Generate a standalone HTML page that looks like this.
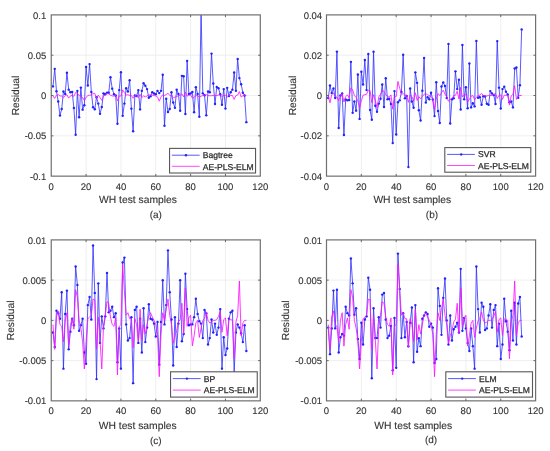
<!DOCTYPE html>
<html><head><meta charset="utf-8"><title>Residuals</title>
<style>html,body{margin:0;padding:0;background:#fff}svg{display:block}text{font-family:"Liberation Sans",Arial,sans-serif;text-rendering:geometricPrecision;stroke:#333;stroke-width:0.12px}</style>
</head><body>
<svg width="550" height="451" viewBox="0 0 550 451">
<rect width="550" height="451" fill="#fff"/>
<line x1="86.09" y1="14.9" x2="86.09" y2="176.15" stroke="#e9e9e9" stroke-width="0.75"/>
<line x1="120.93" y1="14.9" x2="120.93" y2="176.15" stroke="#e9e9e9" stroke-width="0.75"/>
<line x1="155.78" y1="14.9" x2="155.78" y2="176.15" stroke="#e9e9e9" stroke-width="0.75"/>
<line x1="190.62" y1="14.9" x2="190.62" y2="176.15" stroke="#e9e9e9" stroke-width="0.75"/>
<line x1="225.46" y1="14.9" x2="225.46" y2="176.15" stroke="#e9e9e9" stroke-width="0.75"/>
<line x1="51.25" y1="55.21" x2="260.3" y2="55.21" stroke="#e9e9e9" stroke-width="0.75"/>
<line x1="51.25" y1="95.53" x2="260.3" y2="95.53" stroke="#e9e9e9" stroke-width="0.75"/>
<line x1="51.25" y1="135.84" x2="260.3" y2="135.84" stroke="#e9e9e9" stroke-width="0.75"/>
<clipPath id="clipa"><rect x="51.25" y="14.9" width="209.05" height="161.25"/></clipPath>
<g clip-path="url(#clipa)">
<polyline points="52.99,86.41 54.73,68.84 56.48,91.25 58.22,101.49 59.96,115.60 61.70,109.07 63.44,91.57 65.19,93.91 66.93,72.79 68.67,89.64 70.41,92.30 72.16,91.90 73.90,108.02 75.64,134.71 77.38,90.85 79.12,117.29 80.87,87.62 82.61,109.63 84.35,105.20 86.09,66.90 87.83,85.45 89.58,64.08 91.32,91.98 93.06,107.22 94.80,109.23 96.54,97.14 98.29,103.59 100.03,113.83 101.77,107.05 103.51,93.35 105.25,94.23 107.00,92.62 108.74,92.70 110.48,77.22 112.22,88.67 113.97,94.23 115.71,95.53 117.45,123.74 119.19,90.12 120.93,72.14 122.68,115.84 124.42,103.59 126.16,88.27 127.90,91.49 129.64,80.21 131.39,108.67 133.13,131.24 134.87,95.53 136.61,95.93 138.35,90.12 140.10,109.39 141.84,90.85 143.58,83.19 145.32,85.69 147.06,89.08 148.81,97.70 150.55,96.33 152.29,92.30 154.03,93.51 155.78,94.23 157.52,90.85 159.26,93.11 161.00,90.85 162.74,74.72 164.49,125.76 166.23,98.75 167.97,112.05 169.71,109.07 171.45,92.30 173.20,102.54 174.94,107.86 176.68,89.64 178.42,93.91 180.16,110.68 181.91,75.85 183.65,76.18 185.39,113.99 187.13,60.86 188.87,93.91 190.62,93.51 192.36,91.90 194.10,112.21 195.84,87.14 197.59,93.91 199.33,116.81 201.07,10.06 202.81,93.35 204.55,95.20 206.30,115.36 208.04,91.49 209.78,92.30 211.52,53.60 213.26,83.43 215.01,103.99 216.75,86.90 218.49,88.27 220.23,94.23 221.97,104.72 223.72,89.08 225.46,108.59 227.20,87.87 228.94,95.93 230.68,92.30 232.43,89.64 234.17,72.55 235.91,90.85 237.65,59.00 239.40,78.11 241.14,84.24 242.88,92.70 244.62,95.53 246.36,122.13" fill="none" stroke="#2a2aff" stroke-width="0.92" stroke-linejoin="round" opacity="0.85"/>
<circle cx="52.99" cy="86.41" r="1.2" fill="#2222ff"/>
<circle cx="54.73" cy="68.84" r="1.2" fill="#2222ff"/>
<circle cx="56.48" cy="91.25" r="1.2" fill="#2222ff"/>
<circle cx="58.22" cy="101.49" r="1.2" fill="#2222ff"/>
<circle cx="59.96" cy="115.60" r="1.2" fill="#2222ff"/>
<circle cx="61.70" cy="109.07" r="1.2" fill="#2222ff"/>
<circle cx="63.44" cy="91.57" r="1.2" fill="#2222ff"/>
<circle cx="65.19" cy="93.91" r="1.2" fill="#2222ff"/>
<circle cx="66.93" cy="72.79" r="1.2" fill="#2222ff"/>
<circle cx="68.67" cy="89.64" r="1.2" fill="#2222ff"/>
<circle cx="70.41" cy="92.30" r="1.2" fill="#2222ff"/>
<circle cx="72.16" cy="91.90" r="1.2" fill="#2222ff"/>
<circle cx="73.90" cy="108.02" r="1.2" fill="#2222ff"/>
<circle cx="75.64" cy="134.71" r="1.2" fill="#2222ff"/>
<circle cx="77.38" cy="90.85" r="1.2" fill="#2222ff"/>
<circle cx="79.12" cy="117.29" r="1.2" fill="#2222ff"/>
<circle cx="80.87" cy="87.62" r="1.2" fill="#2222ff"/>
<circle cx="82.61" cy="109.63" r="1.2" fill="#2222ff"/>
<circle cx="84.35" cy="105.20" r="1.2" fill="#2222ff"/>
<circle cx="86.09" cy="66.90" r="1.2" fill="#2222ff"/>
<circle cx="87.83" cy="85.45" r="1.2" fill="#2222ff"/>
<circle cx="89.58" cy="64.08" r="1.2" fill="#2222ff"/>
<circle cx="91.32" cy="91.98" r="1.2" fill="#2222ff"/>
<circle cx="93.06" cy="107.22" r="1.2" fill="#2222ff"/>
<circle cx="94.80" cy="109.23" r="1.2" fill="#2222ff"/>
<circle cx="96.54" cy="97.14" r="1.2" fill="#2222ff"/>
<circle cx="98.29" cy="103.59" r="1.2" fill="#2222ff"/>
<circle cx="100.03" cy="113.83" r="1.2" fill="#2222ff"/>
<circle cx="101.77" cy="107.05" r="1.2" fill="#2222ff"/>
<circle cx="103.51" cy="93.35" r="1.2" fill="#2222ff"/>
<circle cx="105.25" cy="94.23" r="1.2" fill="#2222ff"/>
<circle cx="107.00" cy="92.62" r="1.2" fill="#2222ff"/>
<circle cx="108.74" cy="92.70" r="1.2" fill="#2222ff"/>
<circle cx="110.48" cy="77.22" r="1.2" fill="#2222ff"/>
<circle cx="112.22" cy="88.67" r="1.2" fill="#2222ff"/>
<circle cx="113.97" cy="94.23" r="1.2" fill="#2222ff"/>
<circle cx="115.71" cy="95.53" r="1.2" fill="#2222ff"/>
<circle cx="117.45" cy="123.74" r="1.2" fill="#2222ff"/>
<circle cx="119.19" cy="90.12" r="1.2" fill="#2222ff"/>
<circle cx="120.93" cy="72.14" r="1.2" fill="#2222ff"/>
<circle cx="122.68" cy="115.84" r="1.2" fill="#2222ff"/>
<circle cx="124.42" cy="103.59" r="1.2" fill="#2222ff"/>
<circle cx="126.16" cy="88.27" r="1.2" fill="#2222ff"/>
<circle cx="127.90" cy="91.49" r="1.2" fill="#2222ff"/>
<circle cx="129.64" cy="80.21" r="1.2" fill="#2222ff"/>
<circle cx="131.39" cy="108.67" r="1.2" fill="#2222ff"/>
<circle cx="133.13" cy="131.24" r="1.2" fill="#2222ff"/>
<circle cx="134.87" cy="95.53" r="1.2" fill="#2222ff"/>
<circle cx="136.61" cy="95.93" r="1.2" fill="#2222ff"/>
<circle cx="138.35" cy="90.12" r="1.2" fill="#2222ff"/>
<circle cx="140.10" cy="109.39" r="1.2" fill="#2222ff"/>
<circle cx="141.84" cy="90.85" r="1.2" fill="#2222ff"/>
<circle cx="143.58" cy="83.19" r="1.2" fill="#2222ff"/>
<circle cx="145.32" cy="85.69" r="1.2" fill="#2222ff"/>
<circle cx="147.06" cy="89.08" r="1.2" fill="#2222ff"/>
<circle cx="148.81" cy="97.70" r="1.2" fill="#2222ff"/>
<circle cx="150.55" cy="96.33" r="1.2" fill="#2222ff"/>
<circle cx="152.29" cy="92.30" r="1.2" fill="#2222ff"/>
<circle cx="154.03" cy="93.51" r="1.2" fill="#2222ff"/>
<circle cx="155.78" cy="94.23" r="1.2" fill="#2222ff"/>
<circle cx="157.52" cy="90.85" r="1.2" fill="#2222ff"/>
<circle cx="159.26" cy="93.11" r="1.2" fill="#2222ff"/>
<circle cx="161.00" cy="90.85" r="1.2" fill="#2222ff"/>
<circle cx="162.74" cy="74.72" r="1.2" fill="#2222ff"/>
<circle cx="164.49" cy="125.76" r="1.2" fill="#2222ff"/>
<circle cx="166.23" cy="98.75" r="1.2" fill="#2222ff"/>
<circle cx="167.97" cy="112.05" r="1.2" fill="#2222ff"/>
<circle cx="169.71" cy="109.07" r="1.2" fill="#2222ff"/>
<circle cx="171.45" cy="92.30" r="1.2" fill="#2222ff"/>
<circle cx="173.20" cy="102.54" r="1.2" fill="#2222ff"/>
<circle cx="174.94" cy="107.86" r="1.2" fill="#2222ff"/>
<circle cx="176.68" cy="89.64" r="1.2" fill="#2222ff"/>
<circle cx="178.42" cy="93.91" r="1.2" fill="#2222ff"/>
<circle cx="180.16" cy="110.68" r="1.2" fill="#2222ff"/>
<circle cx="181.91" cy="75.85" r="1.2" fill="#2222ff"/>
<circle cx="183.65" cy="76.18" r="1.2" fill="#2222ff"/>
<circle cx="185.39" cy="113.99" r="1.2" fill="#2222ff"/>
<circle cx="187.13" cy="60.86" r="1.2" fill="#2222ff"/>
<circle cx="188.87" cy="93.91" r="1.2" fill="#2222ff"/>
<circle cx="190.62" cy="93.51" r="1.2" fill="#2222ff"/>
<circle cx="192.36" cy="91.90" r="1.2" fill="#2222ff"/>
<circle cx="194.10" cy="112.21" r="1.2" fill="#2222ff"/>
<circle cx="195.84" cy="87.14" r="1.2" fill="#2222ff"/>
<circle cx="197.59" cy="93.91" r="1.2" fill="#2222ff"/>
<circle cx="199.33" cy="116.81" r="1.2" fill="#2222ff"/>
<circle cx="201.07" cy="10.06" r="1.2" fill="#2222ff"/>
<circle cx="202.81" cy="93.35" r="1.2" fill="#2222ff"/>
<circle cx="204.55" cy="95.20" r="1.2" fill="#2222ff"/>
<circle cx="206.30" cy="115.36" r="1.2" fill="#2222ff"/>
<circle cx="208.04" cy="91.49" r="1.2" fill="#2222ff"/>
<circle cx="209.78" cy="92.30" r="1.2" fill="#2222ff"/>
<circle cx="211.52" cy="53.60" r="1.2" fill="#2222ff"/>
<circle cx="213.26" cy="83.43" r="1.2" fill="#2222ff"/>
<circle cx="215.01" cy="103.99" r="1.2" fill="#2222ff"/>
<circle cx="216.75" cy="86.90" r="1.2" fill="#2222ff"/>
<circle cx="218.49" cy="88.27" r="1.2" fill="#2222ff"/>
<circle cx="220.23" cy="94.23" r="1.2" fill="#2222ff"/>
<circle cx="221.97" cy="104.72" r="1.2" fill="#2222ff"/>
<circle cx="223.72" cy="89.08" r="1.2" fill="#2222ff"/>
<circle cx="225.46" cy="108.59" r="1.2" fill="#2222ff"/>
<circle cx="227.20" cy="87.87" r="1.2" fill="#2222ff"/>
<circle cx="228.94" cy="95.93" r="1.2" fill="#2222ff"/>
<circle cx="230.68" cy="92.30" r="1.2" fill="#2222ff"/>
<circle cx="232.43" cy="89.64" r="1.2" fill="#2222ff"/>
<circle cx="234.17" cy="72.55" r="1.2" fill="#2222ff"/>
<circle cx="235.91" cy="90.85" r="1.2" fill="#2222ff"/>
<circle cx="237.65" cy="59.00" r="1.2" fill="#2222ff"/>
<circle cx="239.40" cy="78.11" r="1.2" fill="#2222ff"/>
<circle cx="241.14" cy="84.24" r="1.2" fill="#2222ff"/>
<circle cx="242.88" cy="92.70" r="1.2" fill="#2222ff"/>
<circle cx="244.62" cy="95.53" r="1.2" fill="#2222ff"/>
<circle cx="246.36" cy="122.13" r="1.2" fill="#2222ff"/>
<polyline points="52.99,95.95 54.73,98.43 56.48,95.19 58.22,94.58 59.96,95.95 61.70,96.12 63.44,97.66 65.19,95.53 66.93,94.76 68.67,98.10 70.41,95.95 72.16,95.28 73.90,96.41 75.64,92.45 77.38,93.22 79.12,95.53 80.87,96.29 82.61,97.66 84.35,100.39 86.09,97.66 87.83,95.36 89.58,95.19 91.32,95.04 93.06,93.39 94.80,93.48 96.54,98.43 98.29,95.19 100.03,97.49 101.77,100.39 103.51,96.12 105.25,95.01 107.00,93.65 108.74,93.82 110.48,95.19 112.22,95.95 113.97,96.12 115.71,95.28 117.45,100.99 119.19,96.12 120.93,95.95 122.68,89.88 124.42,92.62 126.16,95.01 127.90,94.76 129.64,95.36 131.39,95.36 133.13,98.26 134.87,95.36 136.61,95.95 138.35,97.66 140.10,94.41 141.84,97.49 143.58,95.95 145.32,96.90 147.06,95.95 148.81,95.01 150.55,94.76 152.29,95.19 154.03,95.53 155.78,95.95 157.52,96.90 159.26,101.17 161.00,96.90 162.74,94.76 164.49,95.53 166.23,94.41 167.97,93.39 169.71,95.01 171.45,95.95 173.20,97.83 174.94,97.06 176.68,96.57 178.42,95.69 180.16,95.44 181.91,93.82 183.65,96.90 185.39,92.28 187.13,96.12 188.87,95.28 190.62,95.01 192.36,98.09 194.10,97.06 195.84,95.78 197.59,95.53 199.33,97.23 201.07,96.29 202.81,95.53 204.55,95.36 206.30,94.67 208.04,95.53 209.78,95.78 211.52,95.69 213.26,95.53 215.01,95.53 216.75,95.44 218.49,95.12 220.23,94.64 221.97,96.72 223.72,95.44 225.46,95.28 227.20,97.06 228.94,95.36 230.68,95.44 232.43,95.53 234.17,99.37 235.91,95.69 237.65,95.04 239.40,91.57 241.14,97.06 242.88,95.78 244.62,95.53 246.36,95.53" fill="none" stroke="#ff14ff" stroke-width="0.92" stroke-linejoin="round" opacity="0.92"/>
</g>
<rect x="51.25" y="14.9" width="209.05" height="161.25" fill="none" stroke="#707070" stroke-width="1.2"/>
<path d="M86.09 176.15v-2.2M86.09 14.9v2.2" stroke="#5a5a5a" stroke-width="0.9"/>
<path d="M120.93 176.15v-2.2M120.93 14.9v2.2" stroke="#5a5a5a" stroke-width="0.9"/>
<path d="M155.78 176.15v-2.2M155.78 14.9v2.2" stroke="#5a5a5a" stroke-width="0.9"/>
<path d="M190.62 176.15v-2.2M190.62 14.9v2.2" stroke="#5a5a5a" stroke-width="0.9"/>
<path d="M225.46 176.15v-2.2M225.46 14.9v2.2" stroke="#5a5a5a" stroke-width="0.9"/>
<path d="M51.25 55.21h2.2M260.3 55.21h-2.2" stroke="#5a5a5a" stroke-width="0.9"/>
<path d="M51.25 95.53h2.2M260.3 95.53h-2.2" stroke="#5a5a5a" stroke-width="0.9"/>
<path d="M51.25 135.84h2.2M260.3 135.84h-2.2" stroke="#5a5a5a" stroke-width="0.9"/>
<text x="51.25" y="189.75" text-anchor="middle" font-size="9.5" fill="#333">0</text>
<text x="86.09" y="189.75" text-anchor="middle" font-size="9.5" fill="#333">20</text>
<text x="120.93" y="189.75" text-anchor="middle" font-size="9.5" fill="#333">40</text>
<text x="155.78" y="189.75" text-anchor="middle" font-size="9.5" fill="#333">60</text>
<text x="190.62" y="189.75" text-anchor="middle" font-size="9.5" fill="#333">80</text>
<text x="225.46" y="189.75" text-anchor="middle" font-size="9.5" fill="#333">100</text>
<text x="260.30" y="189.75" text-anchor="middle" font-size="9.5" fill="#333">120</text>
<text x="46.30" y="18.50" text-anchor="end" font-size="9.5" fill="#333">0.1</text>
<text x="46.30" y="58.81" text-anchor="end" font-size="9.5" fill="#333">0.05</text>
<text x="46.30" y="99.12" text-anchor="end" font-size="9.5" fill="#333">0</text>
<text x="46.30" y="139.44" text-anchor="end" font-size="9.5" fill="#333">-0.05</text>
<text x="46.30" y="179.75" text-anchor="end" font-size="9.5" fill="#333">-0.1</text>
<text x="99.05" y="203.20" font-size="10.3" fill="#333">WH test samples</text>
<text transform="translate(19.3,95.53) rotate(-90)" text-anchor="middle" font-size="10.2" fill="#333">Residual</text>
<text x="155.78" y="217.50" text-anchor="middle" font-size="10" fill="#333">(a)</text>
<rect x="169.55" y="148.40" width="86.0" height="24.6" fill="#fff" stroke="#585858" stroke-width="1.1"/>
<line x1="171.85" y1="155.20" x2="199.65" y2="155.20" stroke="#2a2aff" stroke-width="0.92" opacity="0.85"/>
<circle cx="185.95" cy="155.20" r="1.2" fill="#2222ff"/>
<line x1="171.85" y1="166.30" x2="199.65" y2="166.30" stroke="#ff14ff" stroke-width="0.92" opacity="0.85"/>
<text x="202.75" y="158.10" font-size="8.55" fill="#222" style="stroke-width:0.25px">Bagtree</text>
<text x="202.75" y="169.50" font-size="8.55" fill="#222" style="stroke-width:0.25px">AE-PLS-ELM</text>
<line x1="361.35" y1="14.9" x2="361.35" y2="176.15" stroke="#e9e9e9" stroke-width="0.75"/>
<line x1="396.20" y1="14.9" x2="396.20" y2="176.15" stroke="#e9e9e9" stroke-width="0.75"/>
<line x1="431.05" y1="14.9" x2="431.05" y2="176.15" stroke="#e9e9e9" stroke-width="0.75"/>
<line x1="465.90" y1="14.9" x2="465.90" y2="176.15" stroke="#e9e9e9" stroke-width="0.75"/>
<line x1="500.75" y1="14.9" x2="500.75" y2="176.15" stroke="#e9e9e9" stroke-width="0.75"/>
<line x1="326.5" y1="55.21" x2="535.6" y2="55.21" stroke="#e9e9e9" stroke-width="0.75"/>
<line x1="326.5" y1="95.53" x2="535.6" y2="95.53" stroke="#e9e9e9" stroke-width="0.75"/>
<line x1="326.5" y1="135.84" x2="535.6" y2="135.84" stroke="#e9e9e9" stroke-width="0.75"/>
<clipPath id="clipb"><rect x="326.5" y="14.9" width="209.10" height="161.25"/></clipPath>
<g clip-path="url(#clipb)">
<polyline points="328.24,97.94 329.99,85.45 331.73,93.11 333.47,88.47 335.21,97.94 336.95,51.58 338.70,127.98 340.44,95.53 342.18,93.51 343.93,135.03 345.67,99.35 347.41,100.36 349.15,99.96 350.89,61.86 352.64,112.86 354.38,101.57 356.12,110.64 357.87,74.56 359.61,118.91 361.35,71.74 363.09,84.44 364.84,60.05 366.58,90.08 368.32,54.00 370.06,110.04 371.81,119.71 373.55,51.79 375.29,105.80 377.03,111.85 378.77,103.59 380.52,98.75 382.26,84.44 384.00,107.01 385.75,78.19 387.49,99.35 389.23,98.75 390.97,103.99 392.72,143.09 394.46,91.09 396.20,134.43 397.94,102.18 399.69,100.36 401.43,91.90 403.17,54.81 404.91,98.35 406.65,95.93 408.40,167.08 410.14,88.47 411.88,101.57 413.62,107.82 415.37,72.35 417.11,82.83 418.85,110.24 420.60,120.52 422.34,90.69 424.08,58.03 425.82,102.58 427.56,97.14 429.31,99.35 431.05,92.70 432.79,99.56 434.54,116.08 436.28,82.22 438.02,111.05 439.76,122.94 441.50,86.45 443.25,82.42 444.99,86.05 446.73,97.94 448.48,43.92 450.22,123.54 451.96,99.35 453.70,98.35 455.45,71.34 457.19,89.08 458.93,79.80 460.67,109.43 462.42,44.93 464.16,99.35 465.90,87.26 467.64,108.22 469.38,63.48 471.13,107.42 472.87,103.18 474.61,106.41 476.36,40.90 478.10,97.74 479.84,97.14 481.58,104.80 483.33,96.13 485.07,96.53 486.81,103.79 488.55,104.80 490.30,91.09 492.04,93.51 493.78,95.12 495.52,103.99 497.26,41.10 499.01,87.66 500.75,108.43 502.49,89.08 504.24,86.66 505.98,91.70 507.72,94.52 509.46,102.18 511.21,101.57 512.95,107.42 514.69,68.52 516.43,67.51 518.18,97.74 519.92,85.25 521.66,29.41" fill="none" stroke="#2a2aff" stroke-width="0.92" stroke-linejoin="round" opacity="0.85"/>
<circle cx="328.24" cy="97.94" r="1.2" fill="#2222ff"/>
<circle cx="329.99" cy="85.45" r="1.2" fill="#2222ff"/>
<circle cx="331.73" cy="93.11" r="1.2" fill="#2222ff"/>
<circle cx="333.47" cy="88.47" r="1.2" fill="#2222ff"/>
<circle cx="335.21" cy="97.94" r="1.2" fill="#2222ff"/>
<circle cx="336.95" cy="51.58" r="1.2" fill="#2222ff"/>
<circle cx="338.70" cy="127.98" r="1.2" fill="#2222ff"/>
<circle cx="340.44" cy="95.53" r="1.2" fill="#2222ff"/>
<circle cx="342.18" cy="93.51" r="1.2" fill="#2222ff"/>
<circle cx="343.93" cy="135.03" r="1.2" fill="#2222ff"/>
<circle cx="345.67" cy="99.35" r="1.2" fill="#2222ff"/>
<circle cx="347.41" cy="100.36" r="1.2" fill="#2222ff"/>
<circle cx="349.15" cy="99.96" r="1.2" fill="#2222ff"/>
<circle cx="350.89" cy="61.86" r="1.2" fill="#2222ff"/>
<circle cx="352.64" cy="112.86" r="1.2" fill="#2222ff"/>
<circle cx="354.38" cy="101.57" r="1.2" fill="#2222ff"/>
<circle cx="356.12" cy="110.64" r="1.2" fill="#2222ff"/>
<circle cx="357.87" cy="74.56" r="1.2" fill="#2222ff"/>
<circle cx="359.61" cy="118.91" r="1.2" fill="#2222ff"/>
<circle cx="361.35" cy="71.74" r="1.2" fill="#2222ff"/>
<circle cx="363.09" cy="84.44" r="1.2" fill="#2222ff"/>
<circle cx="364.84" cy="60.05" r="1.2" fill="#2222ff"/>
<circle cx="366.58" cy="90.08" r="1.2" fill="#2222ff"/>
<circle cx="368.32" cy="54.00" r="1.2" fill="#2222ff"/>
<circle cx="370.06" cy="110.04" r="1.2" fill="#2222ff"/>
<circle cx="371.81" cy="119.71" r="1.2" fill="#2222ff"/>
<circle cx="373.55" cy="51.79" r="1.2" fill="#2222ff"/>
<circle cx="375.29" cy="105.80" r="1.2" fill="#2222ff"/>
<circle cx="377.03" cy="111.85" r="1.2" fill="#2222ff"/>
<circle cx="378.77" cy="103.59" r="1.2" fill="#2222ff"/>
<circle cx="380.52" cy="98.75" r="1.2" fill="#2222ff"/>
<circle cx="382.26" cy="84.44" r="1.2" fill="#2222ff"/>
<circle cx="384.00" cy="107.01" r="1.2" fill="#2222ff"/>
<circle cx="385.75" cy="78.19" r="1.2" fill="#2222ff"/>
<circle cx="387.49" cy="99.35" r="1.2" fill="#2222ff"/>
<circle cx="389.23" cy="98.75" r="1.2" fill="#2222ff"/>
<circle cx="390.97" cy="103.99" r="1.2" fill="#2222ff"/>
<circle cx="392.72" cy="143.09" r="1.2" fill="#2222ff"/>
<circle cx="394.46" cy="91.09" r="1.2" fill="#2222ff"/>
<circle cx="396.20" cy="134.43" r="1.2" fill="#2222ff"/>
<circle cx="397.94" cy="102.18" r="1.2" fill="#2222ff"/>
<circle cx="399.69" cy="100.36" r="1.2" fill="#2222ff"/>
<circle cx="401.43" cy="91.90" r="1.2" fill="#2222ff"/>
<circle cx="403.17" cy="54.81" r="1.2" fill="#2222ff"/>
<circle cx="404.91" cy="98.35" r="1.2" fill="#2222ff"/>
<circle cx="406.65" cy="95.93" r="1.2" fill="#2222ff"/>
<circle cx="408.40" cy="167.08" r="1.2" fill="#2222ff"/>
<circle cx="410.14" cy="88.47" r="1.2" fill="#2222ff"/>
<circle cx="411.88" cy="101.57" r="1.2" fill="#2222ff"/>
<circle cx="413.62" cy="107.82" r="1.2" fill="#2222ff"/>
<circle cx="415.37" cy="72.35" r="1.2" fill="#2222ff"/>
<circle cx="417.11" cy="82.83" r="1.2" fill="#2222ff"/>
<circle cx="418.85" cy="110.24" r="1.2" fill="#2222ff"/>
<circle cx="420.60" cy="120.52" r="1.2" fill="#2222ff"/>
<circle cx="422.34" cy="90.69" r="1.2" fill="#2222ff"/>
<circle cx="424.08" cy="58.03" r="1.2" fill="#2222ff"/>
<circle cx="425.82" cy="102.58" r="1.2" fill="#2222ff"/>
<circle cx="427.56" cy="97.14" r="1.2" fill="#2222ff"/>
<circle cx="429.31" cy="99.35" r="1.2" fill="#2222ff"/>
<circle cx="431.05" cy="92.70" r="1.2" fill="#2222ff"/>
<circle cx="432.79" cy="99.56" r="1.2" fill="#2222ff"/>
<circle cx="434.54" cy="116.08" r="1.2" fill="#2222ff"/>
<circle cx="436.28" cy="82.22" r="1.2" fill="#2222ff"/>
<circle cx="438.02" cy="111.05" r="1.2" fill="#2222ff"/>
<circle cx="439.76" cy="122.94" r="1.2" fill="#2222ff"/>
<circle cx="441.50" cy="86.45" r="1.2" fill="#2222ff"/>
<circle cx="443.25" cy="82.42" r="1.2" fill="#2222ff"/>
<circle cx="444.99" cy="86.05" r="1.2" fill="#2222ff"/>
<circle cx="446.73" cy="97.94" r="1.2" fill="#2222ff"/>
<circle cx="448.48" cy="43.92" r="1.2" fill="#2222ff"/>
<circle cx="450.22" cy="123.54" r="1.2" fill="#2222ff"/>
<circle cx="451.96" cy="99.35" r="1.2" fill="#2222ff"/>
<circle cx="453.70" cy="98.35" r="1.2" fill="#2222ff"/>
<circle cx="455.45" cy="71.34" r="1.2" fill="#2222ff"/>
<circle cx="457.19" cy="89.08" r="1.2" fill="#2222ff"/>
<circle cx="458.93" cy="79.80" r="1.2" fill="#2222ff"/>
<circle cx="460.67" cy="109.43" r="1.2" fill="#2222ff"/>
<circle cx="462.42" cy="44.93" r="1.2" fill="#2222ff"/>
<circle cx="464.16" cy="99.35" r="1.2" fill="#2222ff"/>
<circle cx="465.90" cy="87.26" r="1.2" fill="#2222ff"/>
<circle cx="467.64" cy="108.22" r="1.2" fill="#2222ff"/>
<circle cx="469.38" cy="63.48" r="1.2" fill="#2222ff"/>
<circle cx="471.13" cy="107.42" r="1.2" fill="#2222ff"/>
<circle cx="472.87" cy="103.18" r="1.2" fill="#2222ff"/>
<circle cx="474.61" cy="106.41" r="1.2" fill="#2222ff"/>
<circle cx="476.36" cy="40.90" r="1.2" fill="#2222ff"/>
<circle cx="478.10" cy="97.74" r="1.2" fill="#2222ff"/>
<circle cx="479.84" cy="97.14" r="1.2" fill="#2222ff"/>
<circle cx="481.58" cy="104.80" r="1.2" fill="#2222ff"/>
<circle cx="483.33" cy="96.13" r="1.2" fill="#2222ff"/>
<circle cx="485.07" cy="96.53" r="1.2" fill="#2222ff"/>
<circle cx="486.81" cy="103.79" r="1.2" fill="#2222ff"/>
<circle cx="488.55" cy="104.80" r="1.2" fill="#2222ff"/>
<circle cx="490.30" cy="91.09" r="1.2" fill="#2222ff"/>
<circle cx="492.04" cy="93.51" r="1.2" fill="#2222ff"/>
<circle cx="493.78" cy="95.12" r="1.2" fill="#2222ff"/>
<circle cx="495.52" cy="103.99" r="1.2" fill="#2222ff"/>
<circle cx="497.26" cy="41.10" r="1.2" fill="#2222ff"/>
<circle cx="499.01" cy="87.66" r="1.2" fill="#2222ff"/>
<circle cx="500.75" cy="108.43" r="1.2" fill="#2222ff"/>
<circle cx="502.49" cy="89.08" r="1.2" fill="#2222ff"/>
<circle cx="504.24" cy="86.66" r="1.2" fill="#2222ff"/>
<circle cx="505.98" cy="91.70" r="1.2" fill="#2222ff"/>
<circle cx="507.72" cy="94.52" r="1.2" fill="#2222ff"/>
<circle cx="509.46" cy="102.18" r="1.2" fill="#2222ff"/>
<circle cx="511.21" cy="101.57" r="1.2" fill="#2222ff"/>
<circle cx="512.95" cy="107.42" r="1.2" fill="#2222ff"/>
<circle cx="514.69" cy="68.52" r="1.2" fill="#2222ff"/>
<circle cx="516.43" cy="67.51" r="1.2" fill="#2222ff"/>
<circle cx="518.18" cy="97.74" r="1.2" fill="#2222ff"/>
<circle cx="519.92" cy="85.25" r="1.2" fill="#2222ff"/>
<circle cx="521.66" cy="29.41" r="1.2" fill="#2222ff"/>
<polyline points="328.24,96.59 329.99,102.78 331.73,94.68 333.47,93.17 335.21,96.59 336.95,97.02 338.70,100.87 340.44,95.53 342.18,93.61 343.93,101.98 345.67,96.59 347.41,94.92 349.15,97.74 350.89,87.83 352.64,89.76 354.38,95.53 356.12,97.44 357.87,100.87 359.61,107.70 361.35,100.87 363.09,95.10 364.84,94.68 366.58,94.32 368.32,90.18 370.06,90.41 371.81,102.78 373.55,94.68 375.29,100.44 377.03,107.70 378.77,97.02 380.52,94.23 382.26,90.83 384.00,91.25 385.75,94.68 387.49,96.59 389.23,97.02 390.97,94.92 392.72,109.19 394.46,97.02 396.20,96.59 397.94,81.42 399.69,88.27 401.43,94.23 403.17,93.61 404.91,95.10 406.65,95.12 408.40,102.36 410.14,95.10 411.88,96.59 413.62,100.87 415.37,92.74 417.11,100.44 418.85,96.59 420.60,98.95 422.34,96.59 424.08,94.23 425.82,93.61 427.56,94.68 429.31,95.53 431.05,96.59 432.79,98.95 434.54,109.63 436.28,98.95 438.02,93.61 439.76,95.53 441.50,92.74 443.25,90.18 444.99,94.23 446.73,96.59 448.48,101.29 450.22,99.37 451.96,98.15 453.70,95.93 455.45,95.32 457.19,91.25 458.93,98.95 460.67,87.40 462.42,97.02 464.16,94.92 465.90,94.23 467.64,101.93 469.38,99.37 471.13,96.17 472.87,95.53 474.61,99.80 476.36,97.44 478.10,95.53 479.84,95.10 481.58,93.39 483.33,95.53 485.07,96.17 486.81,95.95 488.55,95.53 490.30,95.53 492.04,95.32 493.78,94.52 495.52,93.31 497.26,98.51 499.01,95.32 500.75,94.92 502.49,99.37 504.24,95.12 505.98,95.30 507.72,95.53 509.46,105.14 511.21,95.93 512.95,94.32 514.69,85.65 516.43,99.37 518.18,96.17 519.92,95.53 521.66,95.53" fill="none" stroke="#ff14ff" stroke-width="0.92" stroke-linejoin="round" opacity="0.92"/>
</g>
<rect x="326.5" y="14.9" width="209.10" height="161.25" fill="none" stroke="#707070" stroke-width="1.2"/>
<path d="M361.35 176.15v-2.2M361.35 14.9v2.2" stroke="#5a5a5a" stroke-width="0.9"/>
<path d="M396.20 176.15v-2.2M396.20 14.9v2.2" stroke="#5a5a5a" stroke-width="0.9"/>
<path d="M431.05 176.15v-2.2M431.05 14.9v2.2" stroke="#5a5a5a" stroke-width="0.9"/>
<path d="M465.90 176.15v-2.2M465.90 14.9v2.2" stroke="#5a5a5a" stroke-width="0.9"/>
<path d="M500.75 176.15v-2.2M500.75 14.9v2.2" stroke="#5a5a5a" stroke-width="0.9"/>
<path d="M326.5 55.21h2.2M535.6 55.21h-2.2" stroke="#5a5a5a" stroke-width="0.9"/>
<path d="M326.5 95.53h2.2M535.6 95.53h-2.2" stroke="#5a5a5a" stroke-width="0.9"/>
<path d="M326.5 135.84h2.2M535.6 135.84h-2.2" stroke="#5a5a5a" stroke-width="0.9"/>
<text x="326.50" y="189.75" text-anchor="middle" font-size="9.5" fill="#333">0</text>
<text x="361.35" y="189.75" text-anchor="middle" font-size="9.5" fill="#333">20</text>
<text x="396.20" y="189.75" text-anchor="middle" font-size="9.5" fill="#333">40</text>
<text x="431.05" y="189.75" text-anchor="middle" font-size="9.5" fill="#333">60</text>
<text x="465.90" y="189.75" text-anchor="middle" font-size="9.5" fill="#333">80</text>
<text x="500.75" y="189.75" text-anchor="middle" font-size="9.5" fill="#333">100</text>
<text x="535.60" y="189.75" text-anchor="middle" font-size="9.5" fill="#333">120</text>
<text x="322.15" y="18.50" text-anchor="end" font-size="9.5" fill="#333">0.04</text>
<text x="322.15" y="58.81" text-anchor="end" font-size="9.5" fill="#333">0.02</text>
<text x="322.15" y="99.12" text-anchor="end" font-size="9.5" fill="#333">0</text>
<text x="322.15" y="139.44" text-anchor="end" font-size="9.5" fill="#333">-0.02</text>
<text x="322.15" y="179.75" text-anchor="end" font-size="9.5" fill="#333">-0.04</text>
<text x="373.40" y="203.20" font-size="10.3" fill="#333">WH test samples</text>
<text transform="translate(295.8,95.53) rotate(-90)" text-anchor="middle" font-size="10.2" fill="#333">Residual</text>
<text x="431.95" y="217.90" text-anchor="middle" font-size="10" fill="#333">(b)</text>
<rect x="444.80" y="147.60" width="86.0" height="24.6" fill="#fff" stroke="#585858" stroke-width="1.1"/>
<line x1="447.10" y1="154.40" x2="474.90" y2="154.40" stroke="#2a2aff" stroke-width="0.92" opacity="0.85"/>
<circle cx="461.20" cy="154.40" r="1.2" fill="#2222ff"/>
<line x1="447.10" y1="165.50" x2="474.90" y2="165.50" stroke="#ff14ff" stroke-width="0.92" opacity="0.85"/>
<text x="478.00" y="157.30" font-size="8.55" fill="#222" style="stroke-width:0.25px">SVR</text>
<text x="478.00" y="168.70" font-size="8.55" fill="#222" style="stroke-width:0.25px">AE-PLS-ELM</text>
<line x1="86.09" y1="239.9" x2="86.09" y2="400.85" stroke="#e9e9e9" stroke-width="0.75"/>
<line x1="120.93" y1="239.9" x2="120.93" y2="400.85" stroke="#e9e9e9" stroke-width="0.75"/>
<line x1="155.78" y1="239.9" x2="155.78" y2="400.85" stroke="#e9e9e9" stroke-width="0.75"/>
<line x1="190.62" y1="239.9" x2="190.62" y2="400.85" stroke="#e9e9e9" stroke-width="0.75"/>
<line x1="225.46" y1="239.9" x2="225.46" y2="400.85" stroke="#e9e9e9" stroke-width="0.75"/>
<line x1="51.25" y1="280.14" x2="260.3" y2="280.14" stroke="#e9e9e9" stroke-width="0.75"/>
<line x1="51.25" y1="320.38" x2="260.3" y2="320.38" stroke="#e9e9e9" stroke-width="0.75"/>
<line x1="51.25" y1="360.61" x2="260.3" y2="360.61" stroke="#e9e9e9" stroke-width="0.75"/>
<clipPath id="clipc"><rect x="51.25" y="239.9" width="209.05" height="160.95"/></clipPath>
<g clip-path="url(#clipc)">
<polyline points="52.99,332.45 54.73,346.93 56.48,310.72 58.22,313.13 59.96,318.77 61.70,292.21 63.44,368.66 65.19,313.94 66.93,290.60 68.67,349.35 70.41,331.64 72.16,318.77 73.90,325.20 75.64,266.46 77.38,284.97 79.12,330.84 80.87,325.20 82.61,318.77 84.35,352.56 86.09,363.83 87.83,305.08 89.58,297.04 91.32,319.57 93.06,245.53 94.80,293.01 96.54,379.12 98.29,283.36 100.03,342.91 101.77,316.35 103.51,328.42 105.25,316.35 107.00,272.89 108.74,312.33 110.48,310.72 112.22,306.69 113.97,317.16 115.71,313.13 117.45,362.22 119.19,328.42 120.93,368.66 122.68,262.43 124.42,257.60 126.16,324.40 127.90,340.49 129.64,338.08 131.39,317.16 133.13,383.15 134.87,309.91 136.61,306.69 138.35,342.91 140.10,318.77 141.84,352.56 143.58,308.30 145.32,342.10 147.06,327.62 148.81,304.28 150.55,318.77 152.29,319.57 154.03,323.59 155.78,336.47 157.52,321.98 159.26,364.64 161.00,321.98 162.74,280.14 164.49,324.40 166.23,305.08 167.97,250.36 169.71,292.21 171.45,319.57 173.20,365.44 174.94,317.16 176.68,346.93 178.42,323.59 180.16,280.14 181.91,341.30 183.65,334.06 185.39,273.70 187.13,309.11 188.87,325.20 190.62,324.40 192.36,324.40 194.10,317.16 195.84,298.65 197.59,313.94 199.33,321.18 201.07,323.59 202.81,338.08 204.55,309.91 206.30,313.13 208.04,344.52 209.78,338.08 211.52,319.57 213.26,332.45 215.01,323.59 216.75,334.86 218.49,327.62 220.23,309.11 221.97,368.66 223.72,337.27 225.46,354.98 227.20,348.54 228.94,318.77 230.68,312.33 232.43,310.72 234.17,372.68 235.91,332.45 237.65,324.40 239.40,327.62 241.14,333.25 242.88,342.10 244.62,325.20 246.36,350.96" fill="none" stroke="#2a2aff" stroke-width="0.92" stroke-linejoin="round" opacity="0.85"/>
<circle cx="52.99" cy="332.45" r="1.2" fill="#2222ff"/>
<circle cx="54.73" cy="346.93" r="1.2" fill="#2222ff"/>
<circle cx="56.48" cy="310.72" r="1.2" fill="#2222ff"/>
<circle cx="58.22" cy="313.13" r="1.2" fill="#2222ff"/>
<circle cx="59.96" cy="318.77" r="1.2" fill="#2222ff"/>
<circle cx="61.70" cy="292.21" r="1.2" fill="#2222ff"/>
<circle cx="63.44" cy="368.66" r="1.2" fill="#2222ff"/>
<circle cx="65.19" cy="313.94" r="1.2" fill="#2222ff"/>
<circle cx="66.93" cy="290.60" r="1.2" fill="#2222ff"/>
<circle cx="68.67" cy="349.35" r="1.2" fill="#2222ff"/>
<circle cx="70.41" cy="331.64" r="1.2" fill="#2222ff"/>
<circle cx="72.16" cy="318.77" r="1.2" fill="#2222ff"/>
<circle cx="73.90" cy="325.20" r="1.2" fill="#2222ff"/>
<circle cx="75.64" cy="266.46" r="1.2" fill="#2222ff"/>
<circle cx="77.38" cy="284.97" r="1.2" fill="#2222ff"/>
<circle cx="79.12" cy="330.84" r="1.2" fill="#2222ff"/>
<circle cx="80.87" cy="325.20" r="1.2" fill="#2222ff"/>
<circle cx="82.61" cy="318.77" r="1.2" fill="#2222ff"/>
<circle cx="84.35" cy="352.56" r="1.2" fill="#2222ff"/>
<circle cx="86.09" cy="363.83" r="1.2" fill="#2222ff"/>
<circle cx="87.83" cy="305.08" r="1.2" fill="#2222ff"/>
<circle cx="89.58" cy="297.04" r="1.2" fill="#2222ff"/>
<circle cx="91.32" cy="319.57" r="1.2" fill="#2222ff"/>
<circle cx="93.06" cy="245.53" r="1.2" fill="#2222ff"/>
<circle cx="94.80" cy="293.01" r="1.2" fill="#2222ff"/>
<circle cx="96.54" cy="379.12" r="1.2" fill="#2222ff"/>
<circle cx="98.29" cy="283.36" r="1.2" fill="#2222ff"/>
<circle cx="100.03" cy="342.91" r="1.2" fill="#2222ff"/>
<circle cx="101.77" cy="316.35" r="1.2" fill="#2222ff"/>
<circle cx="103.51" cy="328.42" r="1.2" fill="#2222ff"/>
<circle cx="105.25" cy="316.35" r="1.2" fill="#2222ff"/>
<circle cx="107.00" cy="272.89" r="1.2" fill="#2222ff"/>
<circle cx="108.74" cy="312.33" r="1.2" fill="#2222ff"/>
<circle cx="110.48" cy="310.72" r="1.2" fill="#2222ff"/>
<circle cx="112.22" cy="306.69" r="1.2" fill="#2222ff"/>
<circle cx="113.97" cy="317.16" r="1.2" fill="#2222ff"/>
<circle cx="115.71" cy="313.13" r="1.2" fill="#2222ff"/>
<circle cx="117.45" cy="362.22" r="1.2" fill="#2222ff"/>
<circle cx="119.19" cy="328.42" r="1.2" fill="#2222ff"/>
<circle cx="120.93" cy="368.66" r="1.2" fill="#2222ff"/>
<circle cx="122.68" cy="262.43" r="1.2" fill="#2222ff"/>
<circle cx="124.42" cy="257.60" r="1.2" fill="#2222ff"/>
<circle cx="126.16" cy="324.40" r="1.2" fill="#2222ff"/>
<circle cx="127.90" cy="340.49" r="1.2" fill="#2222ff"/>
<circle cx="129.64" cy="338.08" r="1.2" fill="#2222ff"/>
<circle cx="131.39" cy="317.16" r="1.2" fill="#2222ff"/>
<circle cx="133.13" cy="383.15" r="1.2" fill="#2222ff"/>
<circle cx="134.87" cy="309.91" r="1.2" fill="#2222ff"/>
<circle cx="136.61" cy="306.69" r="1.2" fill="#2222ff"/>
<circle cx="138.35" cy="342.91" r="1.2" fill="#2222ff"/>
<circle cx="140.10" cy="318.77" r="1.2" fill="#2222ff"/>
<circle cx="141.84" cy="352.56" r="1.2" fill="#2222ff"/>
<circle cx="143.58" cy="308.30" r="1.2" fill="#2222ff"/>
<circle cx="145.32" cy="342.10" r="1.2" fill="#2222ff"/>
<circle cx="147.06" cy="327.62" r="1.2" fill="#2222ff"/>
<circle cx="148.81" cy="304.28" r="1.2" fill="#2222ff"/>
<circle cx="150.55" cy="318.77" r="1.2" fill="#2222ff"/>
<circle cx="152.29" cy="319.57" r="1.2" fill="#2222ff"/>
<circle cx="154.03" cy="323.59" r="1.2" fill="#2222ff"/>
<circle cx="155.78" cy="336.47" r="1.2" fill="#2222ff"/>
<circle cx="157.52" cy="321.98" r="1.2" fill="#2222ff"/>
<circle cx="159.26" cy="364.64" r="1.2" fill="#2222ff"/>
<circle cx="161.00" cy="321.98" r="1.2" fill="#2222ff"/>
<circle cx="162.74" cy="280.14" r="1.2" fill="#2222ff"/>
<circle cx="164.49" cy="324.40" r="1.2" fill="#2222ff"/>
<circle cx="166.23" cy="305.08" r="1.2" fill="#2222ff"/>
<circle cx="167.97" cy="250.36" r="1.2" fill="#2222ff"/>
<circle cx="169.71" cy="292.21" r="1.2" fill="#2222ff"/>
<circle cx="171.45" cy="319.57" r="1.2" fill="#2222ff"/>
<circle cx="173.20" cy="365.44" r="1.2" fill="#2222ff"/>
<circle cx="174.94" cy="317.16" r="1.2" fill="#2222ff"/>
<circle cx="176.68" cy="346.93" r="1.2" fill="#2222ff"/>
<circle cx="178.42" cy="323.59" r="1.2" fill="#2222ff"/>
<circle cx="180.16" cy="280.14" r="1.2" fill="#2222ff"/>
<circle cx="181.91" cy="341.30" r="1.2" fill="#2222ff"/>
<circle cx="183.65" cy="334.06" r="1.2" fill="#2222ff"/>
<circle cx="185.39" cy="273.70" r="1.2" fill="#2222ff"/>
<circle cx="187.13" cy="309.11" r="1.2" fill="#2222ff"/>
<circle cx="188.87" cy="325.20" r="1.2" fill="#2222ff"/>
<circle cx="190.62" cy="324.40" r="1.2" fill="#2222ff"/>
<circle cx="192.36" cy="324.40" r="1.2" fill="#2222ff"/>
<circle cx="194.10" cy="317.16" r="1.2" fill="#2222ff"/>
<circle cx="195.84" cy="298.65" r="1.2" fill="#2222ff"/>
<circle cx="197.59" cy="313.94" r="1.2" fill="#2222ff"/>
<circle cx="199.33" cy="321.18" r="1.2" fill="#2222ff"/>
<circle cx="201.07" cy="323.59" r="1.2" fill="#2222ff"/>
<circle cx="202.81" cy="338.08" r="1.2" fill="#2222ff"/>
<circle cx="204.55" cy="309.91" r="1.2" fill="#2222ff"/>
<circle cx="206.30" cy="313.13" r="1.2" fill="#2222ff"/>
<circle cx="208.04" cy="344.52" r="1.2" fill="#2222ff"/>
<circle cx="209.78" cy="338.08" r="1.2" fill="#2222ff"/>
<circle cx="211.52" cy="319.57" r="1.2" fill="#2222ff"/>
<circle cx="213.26" cy="332.45" r="1.2" fill="#2222ff"/>
<circle cx="215.01" cy="323.59" r="1.2" fill="#2222ff"/>
<circle cx="216.75" cy="334.86" r="1.2" fill="#2222ff"/>
<circle cx="218.49" cy="327.62" r="1.2" fill="#2222ff"/>
<circle cx="220.23" cy="309.11" r="1.2" fill="#2222ff"/>
<circle cx="221.97" cy="368.66" r="1.2" fill="#2222ff"/>
<circle cx="223.72" cy="337.27" r="1.2" fill="#2222ff"/>
<circle cx="225.46" cy="354.98" r="1.2" fill="#2222ff"/>
<circle cx="227.20" cy="348.54" r="1.2" fill="#2222ff"/>
<circle cx="228.94" cy="318.77" r="1.2" fill="#2222ff"/>
<circle cx="230.68" cy="312.33" r="1.2" fill="#2222ff"/>
<circle cx="232.43" cy="310.72" r="1.2" fill="#2222ff"/>
<circle cx="234.17" cy="372.68" r="1.2" fill="#2222ff"/>
<circle cx="235.91" cy="332.45" r="1.2" fill="#2222ff"/>
<circle cx="237.65" cy="324.40" r="1.2" fill="#2222ff"/>
<circle cx="239.40" cy="327.62" r="1.2" fill="#2222ff"/>
<circle cx="241.14" cy="333.25" r="1.2" fill="#2222ff"/>
<circle cx="242.88" cy="342.10" r="1.2" fill="#2222ff"/>
<circle cx="244.62" cy="325.20" r="1.2" fill="#2222ff"/>
<circle cx="246.36" cy="350.96" r="1.2" fill="#2222ff"/>
<polyline points="52.99,324.64 54.73,349.35 56.48,317.00 58.22,310.96 59.96,324.64 61.70,326.33 63.44,341.70 65.19,320.38 66.93,312.73 68.67,346.13 70.41,324.64 72.16,317.96 73.90,329.23 75.64,289.63 77.38,297.36 79.12,320.38 80.87,328.02 82.61,341.70 84.35,368.98 86.09,341.70 87.83,318.69 89.58,317.00 91.32,315.55 93.06,299.05 94.80,299.93 96.54,349.35 98.29,317.00 100.03,340.01 101.77,368.98 103.51,326.33 105.25,315.22 107.00,301.62 108.74,303.31 110.48,317.00 112.22,324.64 113.97,326.33 115.71,317.96 117.45,374.94 119.19,326.33 120.93,324.64 122.68,264.04 124.42,291.40 126.16,315.22 127.90,312.73 129.64,318.69 131.39,318.77 133.13,347.66 134.87,318.69 136.61,324.64 138.35,341.70 140.10,309.27 141.84,340.01 143.58,324.64 145.32,334.06 147.06,324.64 148.81,315.22 150.55,312.73 152.29,317.00 154.03,320.38 155.78,324.64 157.52,334.06 159.26,376.71 161.00,334.06 162.74,312.73 164.49,320.38 166.23,309.27 167.97,299.05 169.71,315.22 171.45,324.64 173.20,343.39 174.94,335.75 176.68,330.84 178.42,321.98 180.16,319.57 181.91,303.31 183.65,334.06 185.39,287.94 187.13,326.33 188.87,317.96 190.62,315.22 192.36,345.97 194.10,335.75 195.84,322.95 197.59,320.38 199.33,337.44 201.07,328.02 202.81,320.38 204.55,318.69 206.30,311.84 208.04,320.38 209.78,322.95 211.52,322.06 213.26,320.38 215.01,320.38 216.75,319.57 218.49,316.35 220.23,311.52 221.97,332.29 223.72,319.57 225.46,317.96 227.20,335.75 228.94,318.77 230.68,319.49 232.43,320.38 234.17,358.76 235.91,321.98 237.65,315.55 239.40,280.94 241.14,335.75 242.88,322.95 244.62,320.38 246.36,320.38" fill="none" stroke="#ff14ff" stroke-width="0.92" stroke-linejoin="round" opacity="0.92"/>
</g>
<rect x="51.25" y="239.9" width="209.05" height="160.95" fill="none" stroke="#707070" stroke-width="1.2"/>
<path d="M86.09 400.85v-2.2M86.09 239.9v2.2" stroke="#5a5a5a" stroke-width="0.9"/>
<path d="M120.93 400.85v-2.2M120.93 239.9v2.2" stroke="#5a5a5a" stroke-width="0.9"/>
<path d="M155.78 400.85v-2.2M155.78 239.9v2.2" stroke="#5a5a5a" stroke-width="0.9"/>
<path d="M190.62 400.85v-2.2M190.62 239.9v2.2" stroke="#5a5a5a" stroke-width="0.9"/>
<path d="M225.46 400.85v-2.2M225.46 239.9v2.2" stroke="#5a5a5a" stroke-width="0.9"/>
<path d="M51.25 280.14h2.2M260.3 280.14h-2.2" stroke="#5a5a5a" stroke-width="0.9"/>
<path d="M51.25 320.38h2.2M260.3 320.38h-2.2" stroke="#5a5a5a" stroke-width="0.9"/>
<path d="M51.25 360.61h2.2M260.3 360.61h-2.2" stroke="#5a5a5a" stroke-width="0.9"/>
<text x="51.25" y="414.45" text-anchor="middle" font-size="9.5" fill="#333">0</text>
<text x="86.09" y="414.45" text-anchor="middle" font-size="9.5" fill="#333">20</text>
<text x="120.93" y="414.45" text-anchor="middle" font-size="9.5" fill="#333">40</text>
<text x="155.78" y="414.45" text-anchor="middle" font-size="9.5" fill="#333">60</text>
<text x="190.62" y="414.45" text-anchor="middle" font-size="9.5" fill="#333">80</text>
<text x="225.46" y="414.45" text-anchor="middle" font-size="9.5" fill="#333">100</text>
<text x="260.30" y="414.45" text-anchor="middle" font-size="9.5" fill="#333">120</text>
<text x="46.30" y="243.50" text-anchor="end" font-size="9.5" fill="#333">0.01</text>
<text x="46.30" y="283.74" text-anchor="end" font-size="9.5" fill="#333">0.005</text>
<text x="46.30" y="323.98" text-anchor="end" font-size="9.5" fill="#333">0</text>
<text x="46.30" y="364.21" text-anchor="end" font-size="9.5" fill="#333">-0.005</text>
<text x="46.30" y="404.45" text-anchor="end" font-size="9.5" fill="#333">-0.01</text>
<text x="98.75" y="428.80" font-size="10.3" fill="#333">WH test samples</text>
<text transform="translate(13.6,320.38) rotate(-90)" text-anchor="middle" font-size="10.2" fill="#333">Residual</text>
<text x="155.78" y="443.50" text-anchor="middle" font-size="10" fill="#333">(c)</text>
<rect x="170.55" y="371.80" width="86.7" height="25.3" fill="#fff" stroke="#585858" stroke-width="1.1"/>
<line x1="172.85" y1="378.60" x2="200.65" y2="378.60" stroke="#2a2aff" stroke-width="0.92" opacity="0.85"/>
<circle cx="186.95" cy="378.60" r="1.2" fill="#2222ff"/>
<line x1="172.85" y1="390.10" x2="200.65" y2="390.10" stroke="#ff14ff" stroke-width="0.92" opacity="0.85"/>
<text x="203.75" y="381.50" font-size="8.55" fill="#222" style="stroke-width:0.25px">BP</text>
<text x="203.75" y="393.30" font-size="8.55" fill="#222" style="stroke-width:0.25px">AE-PLS-ELM</text>
<line x1="361.35" y1="239.9" x2="361.35" y2="400.85" stroke="#e9e9e9" stroke-width="0.75"/>
<line x1="396.20" y1="239.9" x2="396.20" y2="400.85" stroke="#e9e9e9" stroke-width="0.75"/>
<line x1="431.05" y1="239.9" x2="431.05" y2="400.85" stroke="#e9e9e9" stroke-width="0.75"/>
<line x1="465.90" y1="239.9" x2="465.90" y2="400.85" stroke="#e9e9e9" stroke-width="0.75"/>
<line x1="500.75" y1="239.9" x2="500.75" y2="400.85" stroke="#e9e9e9" stroke-width="0.75"/>
<line x1="326.5" y1="280.14" x2="535.6" y2="280.14" stroke="#e9e9e9" stroke-width="0.75"/>
<line x1="326.5" y1="320.38" x2="535.6" y2="320.38" stroke="#e9e9e9" stroke-width="0.75"/>
<line x1="326.5" y1="360.61" x2="535.6" y2="360.61" stroke="#e9e9e9" stroke-width="0.75"/>
<clipPath id="clipd"><rect x="326.5" y="239.9" width="209.10" height="160.95"/></clipPath>
<g clip-path="url(#clipd)">
<polyline points="328.24,327.62 329.99,354.17 331.73,328.42 333.47,290.60 335.21,328.42 336.95,289.79 338.70,352.56 340.44,337.27 342.18,334.06 343.93,335.67 345.67,306.69 347.41,313.13 349.15,315.55 350.89,258.41 352.64,283.36 354.38,314.74 356.12,308.30 357.87,338.88 359.61,359.00 361.35,322.79 363.09,344.52 364.84,319.57 366.58,316.35 368.32,277.72 370.06,289.79 371.81,378.32 373.55,308.30 375.29,338.08 377.03,338.08 378.77,317.16 380.52,327.62 382.26,294.62 384.00,293.01 385.75,319.57 387.49,338.08 389.23,335.67 390.97,326.01 392.72,370.27 394.46,317.96 396.20,367.86 397.94,253.58 399.69,288.99 401.43,338.08 403.17,313.13 404.91,337.27 406.65,321.98 408.40,346.13 410.14,322.79 411.88,307.50 413.62,362.22 415.37,305.08 417.11,351.76 418.85,338.08 420.60,346.13 422.34,318.77 424.08,315.55 425.82,312.33 427.56,313.94 429.31,326.81 431.05,323.59 432.79,327.62 434.54,363.03 436.28,359.00 438.02,288.19 439.76,305.89 441.50,334.86 443.25,297.84 444.99,278.53 446.73,320.38 448.48,344.52 450.22,315.55 451.96,340.49 453.70,329.23 455.45,326.81 457.19,322.79 458.93,332.45 460.67,268.87 462.42,330.84 464.16,317.96 465.90,328.42 467.64,342.91 469.38,350.96 471.13,328.42 472.87,346.13 474.61,368.66 476.36,266.46 478.10,309.11 479.84,332.45 481.58,302.67 483.33,306.69 485.07,330.03 486.81,328.42 488.55,315.55 490.30,304.28 492.04,327.62 493.78,309.91 495.52,305.08 497.26,346.13 499.01,323.59 500.75,359.00 502.49,344.52 504.24,298.65 505.98,321.18 507.72,331.64 509.46,350.15 511.21,310.72 512.95,340.49 514.69,302.67 516.43,344.52 518.18,303.48 519.92,297.04 521.66,336.47" fill="none" stroke="#2a2aff" stroke-width="0.92" stroke-linejoin="round" opacity="0.85"/>
<circle cx="328.24" cy="327.62" r="1.2" fill="#2222ff"/>
<circle cx="329.99" cy="354.17" r="1.2" fill="#2222ff"/>
<circle cx="331.73" cy="328.42" r="1.2" fill="#2222ff"/>
<circle cx="333.47" cy="290.60" r="1.2" fill="#2222ff"/>
<circle cx="335.21" cy="328.42" r="1.2" fill="#2222ff"/>
<circle cx="336.95" cy="289.79" r="1.2" fill="#2222ff"/>
<circle cx="338.70" cy="352.56" r="1.2" fill="#2222ff"/>
<circle cx="340.44" cy="337.27" r="1.2" fill="#2222ff"/>
<circle cx="342.18" cy="334.06" r="1.2" fill="#2222ff"/>
<circle cx="343.93" cy="335.67" r="1.2" fill="#2222ff"/>
<circle cx="345.67" cy="306.69" r="1.2" fill="#2222ff"/>
<circle cx="347.41" cy="313.13" r="1.2" fill="#2222ff"/>
<circle cx="349.15" cy="315.55" r="1.2" fill="#2222ff"/>
<circle cx="350.89" cy="258.41" r="1.2" fill="#2222ff"/>
<circle cx="352.64" cy="283.36" r="1.2" fill="#2222ff"/>
<circle cx="354.38" cy="314.74" r="1.2" fill="#2222ff"/>
<circle cx="356.12" cy="308.30" r="1.2" fill="#2222ff"/>
<circle cx="357.87" cy="338.88" r="1.2" fill="#2222ff"/>
<circle cx="359.61" cy="359.00" r="1.2" fill="#2222ff"/>
<circle cx="361.35" cy="322.79" r="1.2" fill="#2222ff"/>
<circle cx="363.09" cy="344.52" r="1.2" fill="#2222ff"/>
<circle cx="364.84" cy="319.57" r="1.2" fill="#2222ff"/>
<circle cx="366.58" cy="316.35" r="1.2" fill="#2222ff"/>
<circle cx="368.32" cy="277.72" r="1.2" fill="#2222ff"/>
<circle cx="370.06" cy="289.79" r="1.2" fill="#2222ff"/>
<circle cx="371.81" cy="378.32" r="1.2" fill="#2222ff"/>
<circle cx="373.55" cy="308.30" r="1.2" fill="#2222ff"/>
<circle cx="375.29" cy="338.08" r="1.2" fill="#2222ff"/>
<circle cx="377.03" cy="338.08" r="1.2" fill="#2222ff"/>
<circle cx="378.77" cy="317.16" r="1.2" fill="#2222ff"/>
<circle cx="380.52" cy="327.62" r="1.2" fill="#2222ff"/>
<circle cx="382.26" cy="294.62" r="1.2" fill="#2222ff"/>
<circle cx="384.00" cy="293.01" r="1.2" fill="#2222ff"/>
<circle cx="385.75" cy="319.57" r="1.2" fill="#2222ff"/>
<circle cx="387.49" cy="338.08" r="1.2" fill="#2222ff"/>
<circle cx="389.23" cy="335.67" r="1.2" fill="#2222ff"/>
<circle cx="390.97" cy="326.01" r="1.2" fill="#2222ff"/>
<circle cx="392.72" cy="370.27" r="1.2" fill="#2222ff"/>
<circle cx="394.46" cy="317.96" r="1.2" fill="#2222ff"/>
<circle cx="396.20" cy="367.86" r="1.2" fill="#2222ff"/>
<circle cx="397.94" cy="253.58" r="1.2" fill="#2222ff"/>
<circle cx="399.69" cy="288.99" r="1.2" fill="#2222ff"/>
<circle cx="401.43" cy="338.08" r="1.2" fill="#2222ff"/>
<circle cx="403.17" cy="313.13" r="1.2" fill="#2222ff"/>
<circle cx="404.91" cy="337.27" r="1.2" fill="#2222ff"/>
<circle cx="406.65" cy="321.98" r="1.2" fill="#2222ff"/>
<circle cx="408.40" cy="346.13" r="1.2" fill="#2222ff"/>
<circle cx="410.14" cy="322.79" r="1.2" fill="#2222ff"/>
<circle cx="411.88" cy="307.50" r="1.2" fill="#2222ff"/>
<circle cx="413.62" cy="362.22" r="1.2" fill="#2222ff"/>
<circle cx="415.37" cy="305.08" r="1.2" fill="#2222ff"/>
<circle cx="417.11" cy="351.76" r="1.2" fill="#2222ff"/>
<circle cx="418.85" cy="338.08" r="1.2" fill="#2222ff"/>
<circle cx="420.60" cy="346.13" r="1.2" fill="#2222ff"/>
<circle cx="422.34" cy="318.77" r="1.2" fill="#2222ff"/>
<circle cx="424.08" cy="315.55" r="1.2" fill="#2222ff"/>
<circle cx="425.82" cy="312.33" r="1.2" fill="#2222ff"/>
<circle cx="427.56" cy="313.94" r="1.2" fill="#2222ff"/>
<circle cx="429.31" cy="326.81" r="1.2" fill="#2222ff"/>
<circle cx="431.05" cy="323.59" r="1.2" fill="#2222ff"/>
<circle cx="432.79" cy="327.62" r="1.2" fill="#2222ff"/>
<circle cx="434.54" cy="363.03" r="1.2" fill="#2222ff"/>
<circle cx="436.28" cy="359.00" r="1.2" fill="#2222ff"/>
<circle cx="438.02" cy="288.19" r="1.2" fill="#2222ff"/>
<circle cx="439.76" cy="305.89" r="1.2" fill="#2222ff"/>
<circle cx="441.50" cy="334.86" r="1.2" fill="#2222ff"/>
<circle cx="443.25" cy="297.84" r="1.2" fill="#2222ff"/>
<circle cx="444.99" cy="278.53" r="1.2" fill="#2222ff"/>
<circle cx="446.73" cy="320.38" r="1.2" fill="#2222ff"/>
<circle cx="448.48" cy="344.52" r="1.2" fill="#2222ff"/>
<circle cx="450.22" cy="315.55" r="1.2" fill="#2222ff"/>
<circle cx="451.96" cy="340.49" r="1.2" fill="#2222ff"/>
<circle cx="453.70" cy="329.23" r="1.2" fill="#2222ff"/>
<circle cx="455.45" cy="326.81" r="1.2" fill="#2222ff"/>
<circle cx="457.19" cy="322.79" r="1.2" fill="#2222ff"/>
<circle cx="458.93" cy="332.45" r="1.2" fill="#2222ff"/>
<circle cx="460.67" cy="268.87" r="1.2" fill="#2222ff"/>
<circle cx="462.42" cy="330.84" r="1.2" fill="#2222ff"/>
<circle cx="464.16" cy="317.96" r="1.2" fill="#2222ff"/>
<circle cx="465.90" cy="328.42" r="1.2" fill="#2222ff"/>
<circle cx="467.64" cy="342.91" r="1.2" fill="#2222ff"/>
<circle cx="469.38" cy="350.96" r="1.2" fill="#2222ff"/>
<circle cx="471.13" cy="328.42" r="1.2" fill="#2222ff"/>
<circle cx="472.87" cy="346.13" r="1.2" fill="#2222ff"/>
<circle cx="474.61" cy="368.66" r="1.2" fill="#2222ff"/>
<circle cx="476.36" cy="266.46" r="1.2" fill="#2222ff"/>
<circle cx="478.10" cy="309.11" r="1.2" fill="#2222ff"/>
<circle cx="479.84" cy="332.45" r="1.2" fill="#2222ff"/>
<circle cx="481.58" cy="302.67" r="1.2" fill="#2222ff"/>
<circle cx="483.33" cy="306.69" r="1.2" fill="#2222ff"/>
<circle cx="485.07" cy="330.03" r="1.2" fill="#2222ff"/>
<circle cx="486.81" cy="328.42" r="1.2" fill="#2222ff"/>
<circle cx="488.55" cy="315.55" r="1.2" fill="#2222ff"/>
<circle cx="490.30" cy="304.28" r="1.2" fill="#2222ff"/>
<circle cx="492.04" cy="327.62" r="1.2" fill="#2222ff"/>
<circle cx="493.78" cy="309.91" r="1.2" fill="#2222ff"/>
<circle cx="495.52" cy="305.08" r="1.2" fill="#2222ff"/>
<circle cx="497.26" cy="346.13" r="1.2" fill="#2222ff"/>
<circle cx="499.01" cy="323.59" r="1.2" fill="#2222ff"/>
<circle cx="500.75" cy="359.00" r="1.2" fill="#2222ff"/>
<circle cx="502.49" cy="344.52" r="1.2" fill="#2222ff"/>
<circle cx="504.24" cy="298.65" r="1.2" fill="#2222ff"/>
<circle cx="505.98" cy="321.18" r="1.2" fill="#2222ff"/>
<circle cx="507.72" cy="331.64" r="1.2" fill="#2222ff"/>
<circle cx="509.46" cy="350.15" r="1.2" fill="#2222ff"/>
<circle cx="511.21" cy="310.72" r="1.2" fill="#2222ff"/>
<circle cx="512.95" cy="340.49" r="1.2" fill="#2222ff"/>
<circle cx="514.69" cy="302.67" r="1.2" fill="#2222ff"/>
<circle cx="516.43" cy="344.52" r="1.2" fill="#2222ff"/>
<circle cx="518.18" cy="303.48" r="1.2" fill="#2222ff"/>
<circle cx="519.92" cy="297.04" r="1.2" fill="#2222ff"/>
<circle cx="521.66" cy="336.47" r="1.2" fill="#2222ff"/>
<polyline points="328.24,324.64 329.99,349.35 331.73,317.00 333.47,310.96 335.21,324.64 336.95,326.33 338.70,341.70 340.44,320.38 342.18,312.73 343.93,346.13 345.67,324.64 347.41,317.96 349.15,329.23 350.89,289.63 352.64,297.36 354.38,320.38 356.12,328.02 357.87,341.70 359.61,368.98 361.35,341.70 363.09,318.69 364.84,317.00 366.58,315.55 368.32,299.05 370.06,299.93 371.81,349.35 373.55,317.00 375.29,340.01 377.03,368.98 378.77,326.33 380.52,315.22 382.26,301.62 384.00,303.31 385.75,317.00 387.49,324.64 389.23,326.33 390.97,317.96 392.72,374.94 394.46,326.33 396.20,324.64 397.94,264.04 399.69,291.40 401.43,315.22 403.17,312.73 404.91,318.69 406.65,318.77 408.40,347.66 410.14,318.69 411.88,324.64 413.62,341.70 415.37,309.27 417.11,340.01 418.85,324.64 420.60,334.06 422.34,324.64 424.08,315.22 425.82,312.73 427.56,317.00 429.31,320.38 431.05,324.64 432.79,334.06 434.54,376.71 436.28,334.06 438.02,312.73 439.76,320.38 441.50,309.27 443.25,299.05 444.99,315.22 446.73,324.64 448.48,343.39 450.22,335.75 451.96,330.84 453.70,321.98 455.45,319.57 457.19,303.31 458.93,334.06 460.67,287.94 462.42,326.33 464.16,317.96 465.90,315.22 467.64,345.97 469.38,335.75 471.13,322.95 472.87,320.38 474.61,337.44 476.36,328.02 478.10,320.38 479.84,318.69 481.58,311.84 483.33,320.38 485.07,322.95 486.81,322.06 488.55,320.38 490.30,320.38 492.04,319.57 493.78,316.35 495.52,311.52 497.26,332.29 499.01,319.57 500.75,317.96 502.49,335.75 504.24,318.77 505.98,319.49 507.72,320.38 509.46,358.76 511.21,321.98 512.95,315.55 514.69,280.94 516.43,335.75 518.18,322.95 519.92,320.38 521.66,320.38" fill="none" stroke="#ff14ff" stroke-width="0.92" stroke-linejoin="round" opacity="0.92"/>
</g>
<rect x="326.5" y="239.9" width="209.10" height="160.95" fill="none" stroke="#707070" stroke-width="1.2"/>
<path d="M361.35 400.85v-2.2M361.35 239.9v2.2" stroke="#5a5a5a" stroke-width="0.9"/>
<path d="M396.20 400.85v-2.2M396.20 239.9v2.2" stroke="#5a5a5a" stroke-width="0.9"/>
<path d="M431.05 400.85v-2.2M431.05 239.9v2.2" stroke="#5a5a5a" stroke-width="0.9"/>
<path d="M465.90 400.85v-2.2M465.90 239.9v2.2" stroke="#5a5a5a" stroke-width="0.9"/>
<path d="M500.75 400.85v-2.2M500.75 239.9v2.2" stroke="#5a5a5a" stroke-width="0.9"/>
<path d="M326.5 280.14h2.2M535.6 280.14h-2.2" stroke="#5a5a5a" stroke-width="0.9"/>
<path d="M326.5 320.38h2.2M535.6 320.38h-2.2" stroke="#5a5a5a" stroke-width="0.9"/>
<path d="M326.5 360.61h2.2M535.6 360.61h-2.2" stroke="#5a5a5a" stroke-width="0.9"/>
<text x="326.50" y="414.45" text-anchor="middle" font-size="9.5" fill="#333">0</text>
<text x="361.35" y="414.45" text-anchor="middle" font-size="9.5" fill="#333">20</text>
<text x="396.20" y="414.45" text-anchor="middle" font-size="9.5" fill="#333">40</text>
<text x="431.05" y="414.45" text-anchor="middle" font-size="9.5" fill="#333">60</text>
<text x="465.90" y="414.45" text-anchor="middle" font-size="9.5" fill="#333">80</text>
<text x="500.75" y="414.45" text-anchor="middle" font-size="9.5" fill="#333">100</text>
<text x="535.60" y="414.45" text-anchor="middle" font-size="9.5" fill="#333">120</text>
<text x="322.15" y="243.50" text-anchor="end" font-size="9.5" fill="#333">0.01</text>
<text x="322.15" y="283.74" text-anchor="end" font-size="9.5" fill="#333">0.005</text>
<text x="322.15" y="323.98" text-anchor="end" font-size="9.5" fill="#333">0</text>
<text x="322.15" y="364.21" text-anchor="end" font-size="9.5" fill="#333">-0.005</text>
<text x="322.15" y="404.45" text-anchor="end" font-size="9.5" fill="#333">-0.01</text>
<text x="374.30" y="428.60" font-size="10.3" fill="#333">WH test samples</text>
<text transform="translate(289.0,320.38) rotate(-90)" text-anchor="middle" font-size="10.2" fill="#333">Residual</text>
<text x="431.05" y="443.20" text-anchor="middle" font-size="10" fill="#333">(d)</text>
<rect x="445.80" y="371.80" width="86.7" height="25.3" fill="#fff" stroke="#585858" stroke-width="1.1"/>
<line x1="448.10" y1="378.60" x2="475.90" y2="378.60" stroke="#2a2aff" stroke-width="0.92" opacity="0.85"/>
<circle cx="462.20" cy="378.60" r="1.2" fill="#2222ff"/>
<line x1="448.10" y1="390.10" x2="475.90" y2="390.10" stroke="#ff14ff" stroke-width="0.92" opacity="0.85"/>
<text x="479.00" y="381.50" font-size="8.55" fill="#222" style="stroke-width:0.25px">ELM</text>
<text x="479.00" y="393.30" font-size="8.55" fill="#222" style="stroke-width:0.25px">AE-PLS-ELM</text>
</svg>
</body></html>
